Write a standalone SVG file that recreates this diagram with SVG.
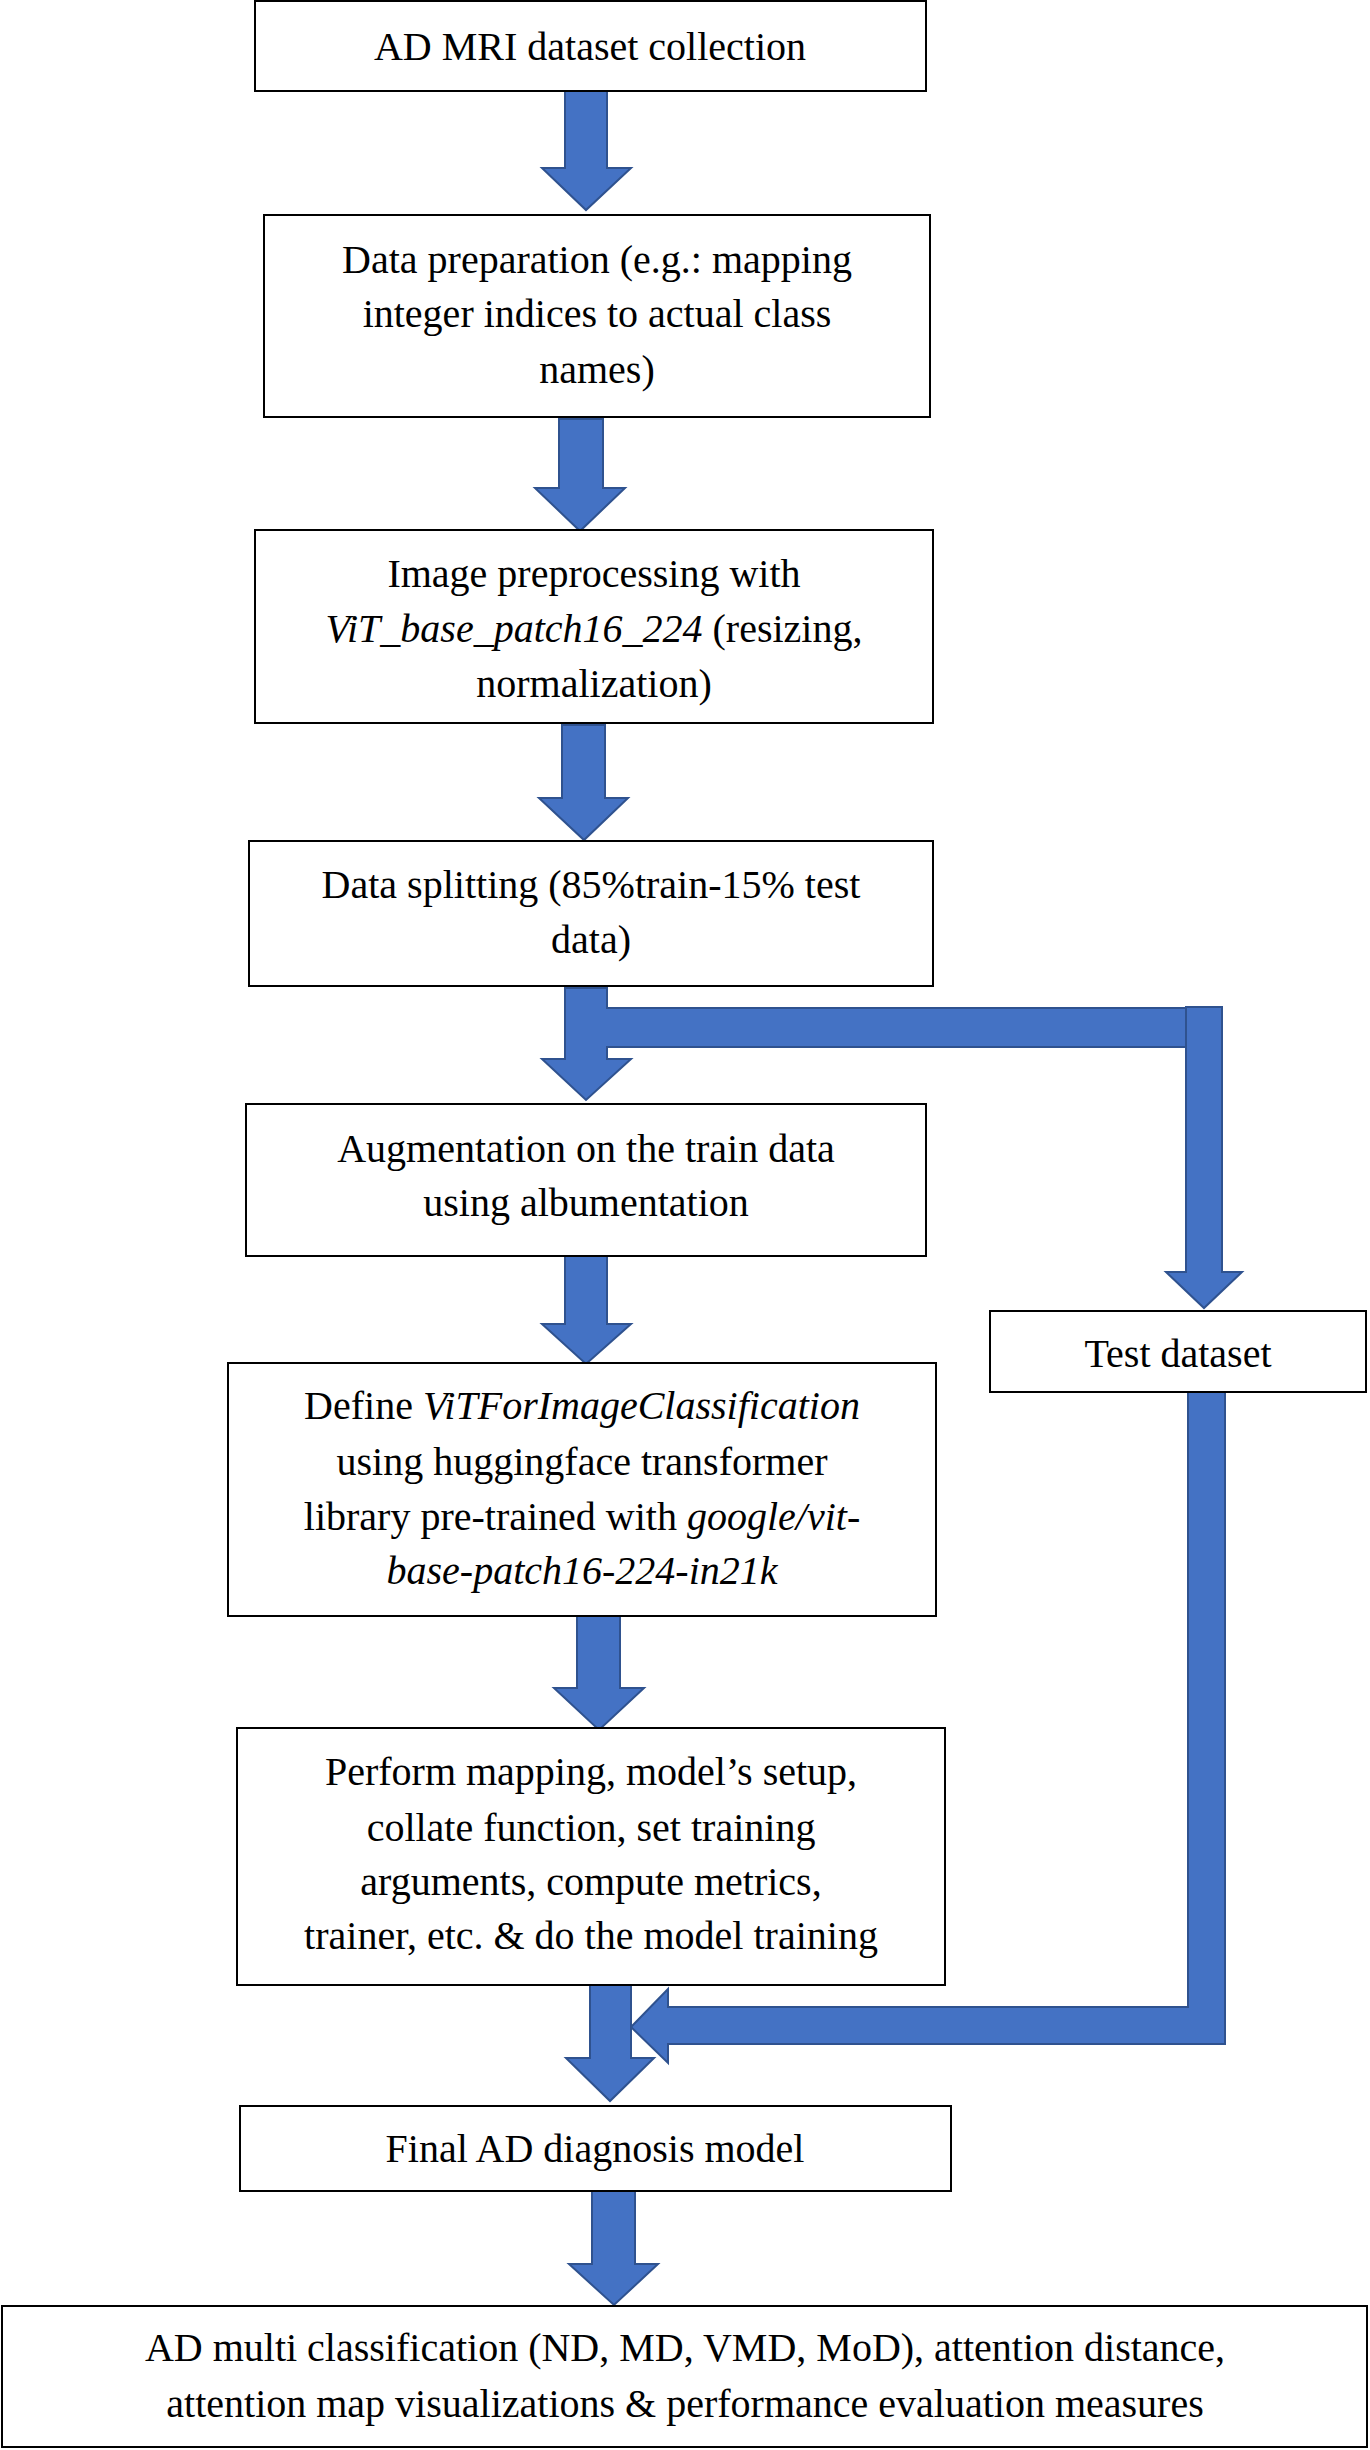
<svg xmlns="http://www.w3.org/2000/svg" width="1370" height="2450" viewBox="0 0 1370 2450">
<style>
.box{fill:#fff;stroke:#000;stroke-width:2}
.t{font-family:"Liberation Serif","Times New Roman",serif;font-size:40px;fill:#000;text-anchor:middle}
.i{font-style:italic}
.ar{fill:#4472C4;stroke:#2F528F;stroke-width:2}
</style>
<rect width="1370" height="2450" fill="#fff"/>
<g id="connectors">
<path class="ar" d="M565,88 H607 V168 H631 L586,210 L542,168 H565 Z"/>
<path class="ar" d="M559,419 H603 V488 H625 L580,531 L535,488 H559 Z"/>
<path class="ar" d="M562,725 H605 V798 H628 L584,840 L539,798 H562 Z"/>
<path class="ar" d="M565,988 H607 V1008 H1188 V1047 H607 V1059 H631 L586,1100 L542,1059 H565 Z"/>
<path class="ar" d="M1186,1007 H1222 V1272 H1242 L1204,1308 L1166,1272 H1186 Z"/>
<path class="ar" d="M565,1256 H607 V1324 H631 L586,1364 L542,1324 H565 Z"/>
<path class="ar" d="M577,1616 H620 V1688 H644 L599,1730 L554,1688 H577 Z"/>
<path class="ar" d="M1188,1392 H1225 V2044 H668 V2063 L631,2027 L668,1989 V2007 H1188 Z"/>
<path class="ar" d="M590,1985 H631 V2058 H654 L610,2101 L566,2058 H590 Z"/>
<path class="ar" d="M592,2191 H635 V2264 H658 L614,2305 L569,2264 H592 Z"/>
</g>
<g id="n1"><rect class="box" x="255" y="1" width="671" height="90"/><text class="t" x="590" y="60">AD MRI dataset collection</text></g>
<g id="n2"><rect class="box" x="264" y="215" width="666" height="202"/>
<text class="t" x="597" y="273">Data preparation (e.g.: mapping</text>
<text class="t" x="597" y="327">integer indices to actual class</text>
<text class="t" x="597" y="383">names)</text></g>
<g id="n3"><rect class="box" x="255" y="530" width="678" height="193"/>
<text class="t" x="594" y="587">Image preprocessing with</text>
<text class="t" x="594" y="642"><tspan class="i">ViT_base_patch16_224</tspan> (resizing,</text>
<text class="t" x="594" y="697">normalization)</text></g>
<g id="n4"><rect class="box" x="249" y="841" width="684" height="145"/>
<text class="t" x="591" y="898">Data splitting (85%train-15% test</text>
<text class="t" x="591" y="953">data)</text></g>
<g id="n5"><rect class="box" x="246" y="1104" width="680" height="152"/>
<text class="t" x="586" y="1162">Augmentation on the train data</text>
<text class="t" x="586" y="1216">using albumentation</text></g>
<g id="n6"><rect class="box" x="228" y="1363" width="708" height="253"/>
<text class="t" x="582" y="1419">Define <tspan class="i">ViTForImageClassification</tspan></text>
<text class="t" x="582" y="1475">using huggingface transformer</text>
<text class="t" x="582" y="1530">library pre-trained with <tspan class="i">google/vit-</tspan></text>
<text class="t i" x="582" y="1584">base-patch16-224-in21k</text></g>
<g id="n7"><rect class="box" x="990" y="1311" width="376" height="81"/>
<text class="t" x="1178" y="1367">Test dataset</text></g>
<g id="n8"><rect class="box" x="237" y="1728" width="708" height="257"/>
<text class="t" x="591" y="1785">Perform mapping, model’s setup,</text>
<text class="t" x="591" y="1841">collate function, set training</text>
<text class="t" x="591" y="1895">arguments, compute metrics,</text>
<text class="t" x="591" y="1949">trainer, etc. &amp; do the model training</text></g>
<g id="n9"><rect class="box" x="240" y="2106" width="711" height="85"/>
<text class="t" x="595" y="2162">Final AD diagnosis model</text></g>
<g id="n10"><rect class="box" x="2" y="2306" width="1365" height="141"/>
<text class="t" x="685" y="2361">AD multi classification (ND, MD, VMD, MoD), attention distance,</text>
<text class="t" x="685" y="2417">attention map visualizations &amp; performance evaluation measures</text></g>
</svg>
